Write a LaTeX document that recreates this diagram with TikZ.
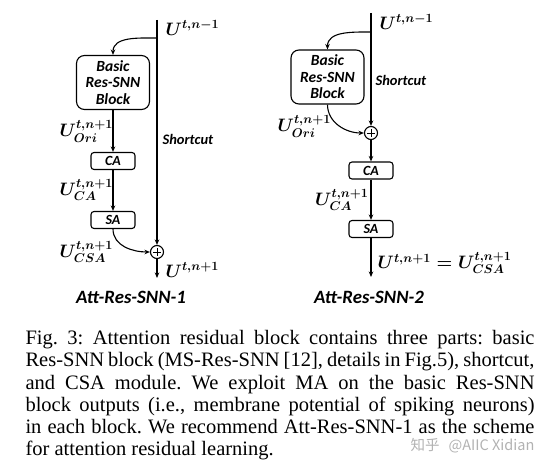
\RequirePackage{fix-cm}
\documentclass[tikz,border=0pt]{standalone}
\usepackage{amsmath}
\usepackage{fontspec}
\newfontfamily\blockfont{Carlito}
\newfontfamily\capserif{Liberation Serif}
\newfontfamily\markfont{Noto Sans CJK SC}
\usetikzlibrary{arrows.meta, positioning, calc}
\newcommand{\capfont}{\capserif\fontsize{20.5}{22.2}\selectfont\frenchspacing}

\begin{document}
\begin{tikzpicture}[x=1pt, y=-1pt, line width=1.1pt, >={Stealth[length=5.5pt, width=4.5pt]}]
	
	% Define block styles
	\tikzstyle{resblock} = [rectangle, rounded corners=8pt, draw, minimum width=73pt, minimum height=54pt, inner sep=0pt, align=center, font=\blockfont\bfseries\itshape\fontsize{15.5}{16.5}\selectfont]
	\tikzstyle{attblock} = [rectangle, rounded corners=3pt, draw, minimum width=44pt, minimum height=17pt, inner sep=0pt, font=\blockfont\bfseries\itshape\fontsize{14}{15}\selectfont]
	\tikzstyle{sumnode} = [circle, draw, minimum size=13pt, inner sep=0pt, path picture={\draw[line width=0.8pt] (path picture bounding box.center) +(-4pt,0) -- +(4pt,0) (path picture bounding box.center) +(0,-4pt) -- +(0,4pt);}]
	\tikzstyle{ulabel} = [inner sep=0pt, font=\fontsize{18}{20}\selectfont\boldmath]
	\tikzstyle{tag} = [inner sep=0pt, font=\blockfont\bfseries\itshape\fontsize{14.5}{16}\selectfont]
	\tikzstyle{title} = [inner sep=0pt, font=\blockfont\bfseries\itshape\fontsize{18.8}{20}\selectfont]
	
	\useasboundingbox (0,0) rectangle (550,468);
	
	% Att-Res-SNN-1
	\coordinate (topL) at (157,20);
	\coordinate (splitL) at (157,38);
	\node[resblock] (basicL) at (113,82.5) {Basic\\Res-SNN\\Block};
	\node[attblock] (caL) at (113,161) {CA};
	\node[attblock] (saL) at (113,220) {SA};
	\node[sumnode] (sumL) at (157,252) {};
	\coordinate (outL) at (157,278);
	
	\node[ulabel, anchor=west] (uinL) at (165,28) {$U^{t,n-1}$};
	\node[ulabel, anchor=west] (uoriL) at (59,131) {$U^{t,n+1}_{Ori}$};
	\node[ulabel, anchor=west] (ucaL) at (59,190) {$U^{t,n+1}_{CA}$};
	\node[ulabel, anchor=west] (ucsaL) at (59,252) {$U^{t,n+1}_{CSA}$};
	\node[ulabel, anchor=west] (uoutL) at (165,270) {$U^{t,n+1}$};
	\node[tag, anchor=west] (scL) at (162,139) {Shortcut};
	\node[title] (nameL) at (131,297) {Att-Res-SNN-1};
	
	\draw[->] (topL) -- (sumL);
	\draw[->] (splitL) to[out=180, in=90] (basicL.north);
	\draw[->] (basicL) -- (caL);
	\draw[->] (caL) -- (saL);
	\draw[->] (saL) to[out=-90, in=180] (sumL);
	\draw[->] (sumL) -- (outL);
	
	% Att-Res-SNN-2
	\coordinate (topR) at (371,13);
	\coordinate (splitR) at (371,32);
	\node[resblock] (basicR) at (327.5,77) {Basic\\Res-SNN\\Block};
	\node[sumnode] (sumR) at (371,133) {};
	\node[attblock] (caR) at (371,170.5) {CA};
	\node[attblock] (saR) at (371,229) {SA};
	\coordinate (outR) at (371,277);
	
	\node[ulabel, anchor=west] (uinR) at (379,22) {$U^{t,n-1}$};
	\node[ulabel, anchor=west] (uoriR) at (277,126) {$U^{t,n+1}_{Ori}$};
	\node[ulabel, anchor=east] (ucaR) at (369,200) {$U^{t,n+1}_{CA}$};
	\node[ulabel, anchor=west] (uoutR) at (377,263) {$U^{t,n+1}=U^{t,n+1}_{CSA}$};
	\node[tag, anchor=west] (scR) at (375,80) {Shortcut};
	\node[title] (nameR) at (369,297) {Att-Res-SNN-2};
	
	\draw[->] (topR) -- (sumR);
	\draw[->] (splitR) to[out=180, in=90] (basicR.north);
	\draw[->] (basicR) to[out=-90, in=180] (sumR);
	\draw[->] (sumR) -- (caR);
	\draw[->] (caR) -- (saR);
	\draw[->] (saR) -- (outR);
	
	% Caption
	\node[anchor=north west, inner sep=0pt, align=left, font=\capfont] (caption) at (25,330) {%
		\makebox[509pt][s]{Fig. 3: Attention residual block contains three parts: basic}\\
		\makebox[509pt][s]{Res-SNN block (MS-Res-SNN [12], details in Fig.5), shortcut,}\\
		\makebox[509pt][s]{and CSA module. We exploit MA on the basic Res-SNN}\\
		\makebox[509pt][s]{block outputs (i.e., membrane potential of spiking neurons)}\\
		\makebox[509pt][s]{in each block. We recommend Att-Res-SNN-1 as the scheme}\\
		for attention residual learning.};
	\node[anchor=base east, inner sep=0pt, text=black!30, font=\markfont\fontsize{14.5}{16}\selectfont] (mark) at (535,451) {知乎\hspace{9pt}@AIIC Xidian};
	
\end{tikzpicture}
\end{document}
